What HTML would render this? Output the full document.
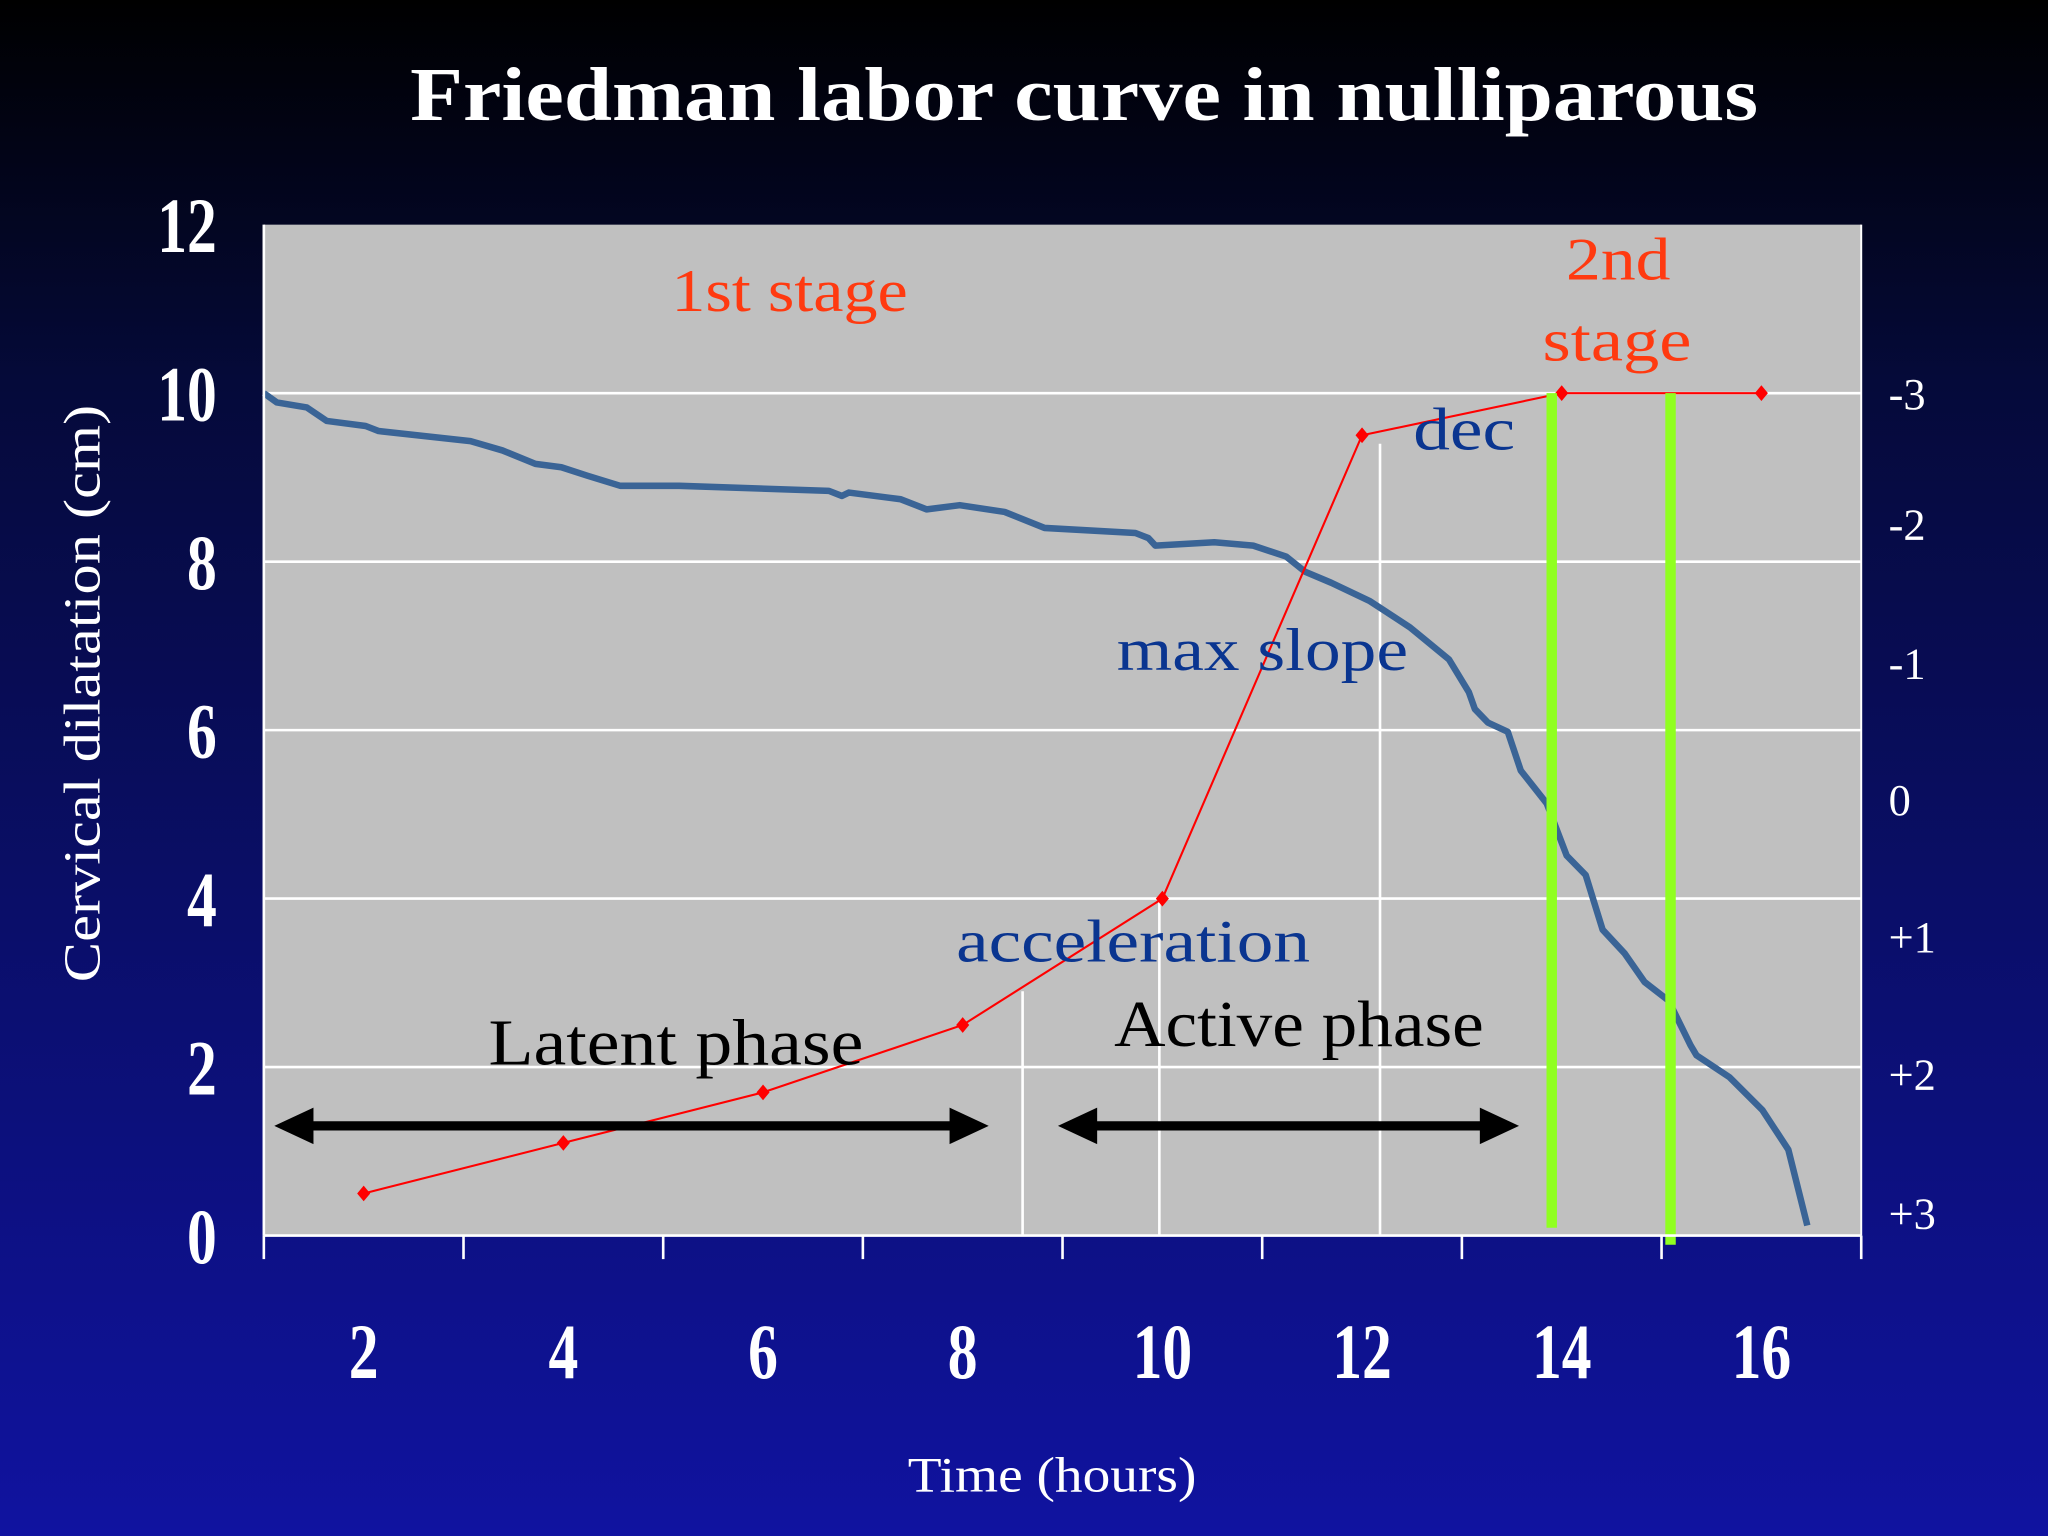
<!DOCTYPE html>
<html><head><meta charset="utf-8"><style>
html,body{margin:0;padding:0;width:2048px;height:1536px;overflow:hidden;background:#000}
svg{display:block}
text{font-family:"Liberation Serif",serif}
</style></head><body>
<svg width="2048" height="1536" viewBox="0 0 1568 1176">
<defs><linearGradient id="bg" x1="0" y1="0" x2="0" y2="1">
<stop offset="0" stop-color="#000000"/><stop offset="0.25" stop-color="#050a3a"/><stop offset="1" stop-color="#1013a0"/></linearGradient></defs>
<rect width="1568" height="1176" fill="url(#bg)"/>
<text x="314" y="92" textLength="1032" lengthAdjust="spacingAndGlyphs" font-size="58" font-weight="bold" fill="#fff">Friedman labor curve in nulliparous</text>
<rect x="202" y="172" width="1223" height="774" fill="#c0c0c0"/>
<g id="grid"></g>
<g id="marks"></g>
<g id="axes"></g>
<text x="514" y="238" textLength="181" lengthAdjust="spacingAndGlyphs" font-size="46" fill="#ff3a10">1st stage</text>
<text x="1199" y="214" textLength="80" lengthAdjust="spacingAndGlyphs" font-size="46" fill="#ff3a10">2nd</text>
<text x="1181" y="276" textLength="114" lengthAdjust="spacingAndGlyphs" font-size="46" fill="#ff3a10">stage</text>
<text x="1082" y="344" textLength="78" lengthAdjust="spacingAndGlyphs" font-size="46" fill="#0a3590">dec</text>
<text x="855" y="513" textLength="223" lengthAdjust="spacingAndGlyphs" font-size="46" fill="#0a3590">max slope</text>
<text x="732" y="736" textLength="271" lengthAdjust="spacingAndGlyphs" font-size="46" fill="#0a3590">acceleration</text>
<text x="374" y="815" textLength="287" lengthAdjust="spacingAndGlyphs" font-size="50" fill="#000">Latent phase</text>
<text x="853" y="801" textLength="283" lengthAdjust="spacingAndGlyphs" font-size="50" fill="#000">Active phase</text>
<text transform="translate(76,531) rotate(-90)" text-anchor="middle" textLength="442" lengthAdjust="spacingAndGlyphs" font-size="40" fill="#fff">Cervical dilatation (cm)</text>
<text x="695" y="1142" textLength="221" lengthAdjust="spacingAndGlyphs" font-size="38" fill="#fff">Time (hours)</text>
</svg>
<script>
const redHours=[2,4,6,8,10,12,14,16];
const redDilation=[0.5,1.1,1.7,2.5,4,9.5,10,10];
const descentHours=[1.00,1.13,1.43,1.63,2.02,2.15,3.07,3.39,3.72,3.98,4.24,4.57,5.16,6.66,6.79,6.86,7.38,7.64,7.97,8.42,8.82,9.73,9.86,9.93,10.52,10.91,11.24,11.43,11.69,12.08,12.48,12.87,13.07,13.13,13.26,13.46,13.59,13.85,14.05,14.24,14.41,14.63,14.83,15.07,15.29,15.35,15.68,16.01,16.27,16.46];
const descentValues=[10,9.89,9.83,9.67,9.61,9.55,9.43,9.32,9.16,9.12,9.02,8.90,8.90,8.84,8.78,8.82,8.74,8.62,8.67,8.59,8.40,8.34,8.28,8.19,8.23,8.19,8.06,7.88,7.75,7.53,7.22,6.84,6.45,6.25,6.09,5.98,5.52,5.13,4.51,4.28,3.63,3.35,3.01,2.79,2.26,2.14,1.88,1.49,1.02,0.12];
const yTicks=[0,2,4,6,8,10,12];
const xLabels=[2,4,6,8,10,12,14,16];
const xTickHours=[1,3,5,7,9,11,13,15,17];
const stationLabels=["-3","-2","-1","0","+1","+2","+3"];
const stationY=[10,8.45,6.8,5.18,3.55,1.92,0.27];
const stageLines=[13.9,15.09];
const refLines=[[8.6,2.9],[9.97,4],[12.18,9.4]];
const X0=202,X1=1425,Y0=946,Y1=172;
const xs=h=>X0+(h-1)/16*(X1-X0);
const ys=v=>Y0-v/12*(Y0-Y1);
const NS="http://www.w3.org/2000/svg";
function mk(tag,parent,attrs){const e=document.createElementNS(NS,tag);for(const k in attrs)e.setAttribute(k,attrs[k]);document.getElementById(parent).appendChild(e);return e;}
yTicks.forEach(v=>{
 if(v>0&&v<12){const g=mk('line','grid',{x1:X0,x2:X1,y1:ys(v),y2:ys(v),stroke:'#fff','stroke-width':2});
 
 }
 const t=mk('text','axes',{'text-anchor':'end','font-size':60,'font-weight':'bold',fill:'#fff',transform:`translate(166,${ys(v)+21}) scale(0.76,1)`});
 t.textContent=v;
 
 
});
refLines.forEach(r=>{const l=mk('line','grid',{x1:xs(r[0]),x2:xs(r[0]),y1:ys(0),y2:ys(r[1]),stroke:'#fff','stroke-width':2});
 
 });
let a=mk('line','axes',{x1:X0,x2:X0,y1:Y1,y2:Y0,stroke:'#fff','stroke-width':2});


a=mk('line','axes',{x1:X0,x2:X1,y1:Y0,y2:Y0,stroke:'#fff','stroke-width':2});


a=mk('line','axes',{x1:X1,x2:X1,y1:Y1,y2:Y0,stroke:'#fff','stroke-width':1.5});


xTickHours.forEach(h=>{const t=mk('line','axes',{x1:xs(h),x2:xs(h),y1:Y0,y2:Y0+18,stroke:'#fff','stroke-width':2});
 
 });
xLabels.forEach(h=>{const t=mk('text','axes',{'text-anchor':'middle','font-size':60,'font-weight':'bold',fill:'#fff',transform:`translate(${xs(h)},1055) scale(0.76,1)`});
 t.textContent=h;
 
 });
stationLabels.forEach((s,i)=>{const t=mk('text','axes',{x:1446,y:ys(stationY[i])+12,'font-size':34,fill:'#fff'});
 t.textContent=s;
 
 });
let p=mk('polyline','marks',{points:descentHours.map((h,i)=>xs(h)+','+ys(descentValues[i])).join(' '),fill:'none',stroke:'#3a6496','stroke-width':5,'stroke-linejoin':'round'});


p=mk('polyline','marks',{points:redHours.map((h,i)=>xs(h)+','+ys(redDilation[i])).join(' '),fill:'none',stroke:'#ff0000','stroke-width':1.6});


redHours.forEach((h,i)=>{const x=xs(h),y=ys(redDilation[i]);const d=mk('polygon','marks',{points:`${x},${y-6} ${x+5},${y} ${x},${y+6} ${x-5},${y}`,fill:'#ff0000'});
 
 });
stageLines.forEach((h,i)=>{const l=mk('line','marks',{x1:xs(h),x2:xs(h),y1:ys(10),y2:i?953:940,stroke:'#90ff20','stroke-width':8});
 
 });
[[210,757],[810,1163]].forEach(r=>{const y=862;
 const l=mk('line','marks',{x1:r[0]+25,x2:r[1]-25,y1:y,y2:y,stroke:'#000','stroke-width':7});
 
 
 const h1=mk('polygon','marks',{points:`${r[0]},${y} ${r[0]+30},${y-14} ${r[0]+30},${y+14}`,fill:'#000'});
 
 
 const h2=mk('polygon','marks',{points:`${r[1]},${y} ${r[1]-30},${y-14} ${r[1]-30},${y+14}`,fill:'#000'});
 
 });
</script>
</body></html>
